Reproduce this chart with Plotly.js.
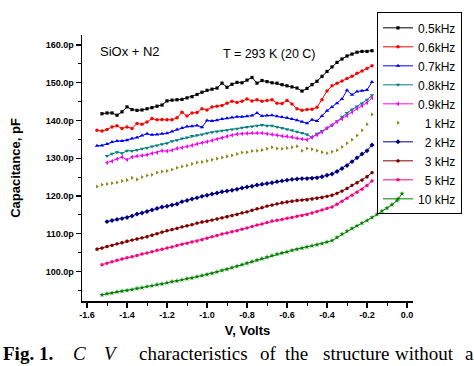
<!DOCTYPE html>
<html>
<head>
<meta charset="utf-8">
<script src="https://cdn.plot.ly/plotly-3.0.1.min.js"></script>
<style>html,body{margin:0;padding:0;background:#fff;}#chart{width:474px;height:366px;}</style>
</head>
<body>
<div id="chart"></div>
<script>
// Bias voltage grid (V)
const volts = [-1.55,-1.525,-1.5,-1.475,-1.45,-1.425,-1.4,-1.375,-1.35,-1.325,
  -1.3,-1.275,-1.25,-1.225,-1.2,-1.175,-1.15,-1.125,-1.1,-1.075,
  -1.05,-1.025,-1.0,-0.975,-0.95,-0.925,-0.9,-0.875,-0.85,-0.825,
  -0.8,-0.775,-0.75,-0.725,-0.7,-0.675,-0.65,-0.625,-0.6,-0.575,
  -0.55,-0.525,-0.5,-0.475,-0.45,-0.425,-0.4,-0.375,-0.35,-0.325,
  -0.3,-0.275,-0.25,-0.225,-0.2,-0.175,-0.15,-0.125,-0.1,-0.075,
  -0.05,-0.025];

// Capacitance (pF) per frequency
const c05k = [null,141.8,142.0,142.0,141.4,142.3,143.6,142.9,142.7,142.8,
  143.1,143.4,143.8,144.1,145.2,145.4,145.5,145.6,146.0,146.3,
  146.9,147.5,148.0,148.3,148.6,149.9,148.8,149.6,150.1,150.0,
  150.7,151.4,149.9,150.6,150.3,150.0,149.9,149.5,149.2,148.9,
  148.6,147.8,148.5,149.5,150.4,151.7,153.0,154.2,155.4,156.3,
  157.1,157.6,158.1,158.3,158.3,158.5];
const c06k = [137.4,137.2,137.6,138.3,138.6,137.9,138.3,137.9,139.2,139.0,
  139.6,140.5,140.2,140.3,140.2,140.2,140.7,142.2,141.2,142.0,
  142.1,143.1,142.8,143.6,143.8,144.0,144.6,145.1,144.8,145.1,
  145.7,145.2,145.5,145.1,145.3,145.5,144.6,144.5,145.3,144.4,
  143.1,142.7,142.9,143.0,143.5,145.5,147.8,149.2,149.9,150.5,
  151.1,151.7,152.5,153.1,153.8,154.5];
const c07k = [133.3,133.4,133.8,134.3,134.6,134.6,134.8,135.2,135.5,136.0,
  136.5,136.2,136.3,136.5,136.6,137.1,137.6,138.0,138.4,138.5,
  138.7,138.2,140.0,139.9,140.1,140.4,140.6,140.8,141.0,141.0,
  141.1,141.3,142.0,141.2,141.3,141.4,141.1,140.9,140.7,140.4,
  140.1,139.7,139.3,140.2,139.9,141.2,142.6,143.6,144.6,145.7,
  148.0,146.8,147.7,147.9,148.1,150.2];
const c08k = [null,null,130.6,131.2,131.6,131.3,132.0,131.9,132.2,132.5,
  132.7,133.1,133.4,133.7,134.0,134.5,134.8,135.2,135.5,135.9,
  136.1,136.3,136.6,136.9,137.1,137.3,137.4,137.6,137.8,138.1,
  138.3,138.4,138.6,138.8,138.6,138.6,138.3,138.0,137.7,137.4,
  137.0,136.7,136.3,135.5,136.5,137.2,137.9,138.7,139.8,141.0,
  142.0,142.9,143.7,144.5,145.5,146.7];
const c09k = [null,null,128.8,129.2,129.8,130.3,129.6,130.3,130.6,130.7,
  130.9,131.3,131.5,132.0,131.9,132.1,132.6,132.8,133.1,133.4,
  133.8,134.1,134.4,134.7,135.1,135.4,135.8,136.1,136.4,136.5,
  136.6,136.7,136.7,136.7,136.5,136.3,136.1,135.9,135.8,135.6,
  135.3,135.1,134.9,135.6,136.2,136.9,138.0,138.8,139.6,140.4,
  141.3,142.2,143.1,143.9,144.7,146.0];
const c1k = [122.5,123.0,123.2,123.4,123.6,124.0,124.2,124.8,124.4,125.0,
  125.4,125.6,126.2,126.5,126.6,127.0,127.5,127.8,128.1,128.5,
  128.9,129.0,129.3,129.6,129.9,130.2,130.5,130.7,131.1,131.5,
  131.6,131.9,132.0,132.2,132.5,132.9,132.6,132.5,132.7,132.9,
  133.2,132.0,132.6,132.4,132.0,131.6,131.3,131.7,132.1,133.0,
  134.0,134.9,136.0,137.4,139.0,141.6];
const c2k = [null,null,113.2,113.5,113.8,114.0,114.3,114.7,115.2,115.5,
  115.9,116.3,116.7,117.1,117.3,117.6,117.9,118.5,118.8,119.2,
  119.5,119.9,120.2,120.5,120.8,121.1,121.3,121.5,121.8,122.1,
  122.4,122.6,122.9,123.1,123.3,123.5,123.8,124.0,124.2,124.4,
  124.5,124.6,124.6,124.7,124.8,125.1,125.5,125.8,126.5,127.3,
  128.1,129.1,130.1,131.1,132.0,133.5];
const c3k = [105.9,106.2,106.6,106.9,107.3,107.6,108.0,108.3,108.6,108.9,
  109.2,109.6,110.0,110.4,110.8,111.1,111.4,111.8,112.1,112.4,
  112.8,113.1,113.3,113.6,113.9,114.2,114.5,114.8,115.1,115.5,
  115.8,116.2,116.6,116.9,117.3,117.6,117.9,118.2,118.4,118.6,
  118.8,118.9,119.0,119.2,119.4,119.6,119.9,120.2,120.7,121.3,
  122.0,122.8,123.5,124.2,125.1,126.2];
const c5k = [null,101.8,102.2,102.6,103.0,103.3,103.6,103.9,104.2,104.6,
  104.9,105.2,105.6,105.9,106.2,106.5,106.9,107.2,107.5,107.8,
  108.1,108.4,108.8,109.2,109.5,109.9,110.2,110.5,110.8,111.2,
  111.5,111.9,112.3,112.6,113.0,113.4,113.6,113.8,114.1,114.3,
  114.6,114.8,115.1,115.5,115.9,116.3,116.7,117.1,117.8,118.6,
  119.4,120.2,121.0,121.8,122.8,124.0];
const c10k = [null,93.8,94.1,94.3,94.6,94.8,95.0,95.2,95.5,95.7,
  96.0,96.2,96.5,96.7,97.0,97.3,97.5,97.8,98.1,98.3,
  98.6,98.9,99.2,99.5,99.9,100.3,100.6,101.0,101.4,101.8,
  102.2,102.6,103.0,103.4,103.8,104.2,104.6,104.9,105.2,105.6,
  105.9,106.2,106.5,106.8,107.1,107.4,107.8,108.2,109.0,109.9,
  110.7,111.4,112.1,112.8,113.5,114.3,115.1,116.0,116.8,117.7,
  118.8,120.6];

const seriesNames = ['0.5kHz','0.6kHz','0.7kHz','0.8kHz','0.9kHz',
  '\u00a0\u00a01 kHz','\u00a0\u00a02 kHz','\u00a0\u00a03 kHz','\u00a0\u00a05 kHz','10 kHz'];
const seriesData = [c05k,c06k,c07k,c08k,c09k,c1k,c2k,c3k,c5k,c10k];
const seriesColors = ['#000000','#ff0000','#0000ff','#008080','#ff00ff',
  '#808000','#000080','#800000','#ff0080','#008000'];
const seriesSymbols = ['square','circle','triangle-up','triangle-down','triangle-left',
  'triangle-right','diamond','hexagon','circle','star'];
const seriesSizes = [3.2,3.5,4,4,4,3.5,3.8,3.8,3.5,4];
const seriesModes = ['lines+markers','lines+markers','lines+markers','lines+markers','lines+markers',
  'markers','lines+markers','lines+markers','lines+markers','lines+markers'];

const xTickVals = [-1.6,-1.4,-1.2,-1.0,-0.8,-0.6,-0.4,-0.2,0.0];
const xTickText = ['-1.6','-1.4','-1.2','-1.0','-0.8','-0.6','-0.4','-0.2','0.0'];
const yTickVals = [100,110,120,130,140,150,160];
const yTickText = ['100.0p','110.0p','120.0p','130.0p','140.0p','150.0p','160.0p'];

const traces = seriesData.map((ys, i) => ({
  type: 'scatter',
  x: volts,
  y: ys,
  name: seriesNames[i],
  mode: seriesModes[i],
  connectgaps: false,
  line: {color: seriesColors[i], width: 1},
  marker: {color: seriesColors[i], symbol: seriesSymbols[i], size: seriesSizes[i],
    line: {width: 0}}
}));

const sans = 'Liberation Sans, Arial, sans-serif';
const serif = 'Liberation Serif, Times New Roman, serif';
const pxX = p => (p - 82) / 331;
const pxY = p => (301 - p) / 270;

const capWords = [
  {t: '<b>Fig. 1.</b>', x: 1},
  {t: '<i>C</i>', x: 71},
  {t: '<i>V</i>', x: 102},
  {t: 'characteristics', x: 137},
  {t: 'of', x: 258},
  {t: 'the', x: 283},
  {t: 'structure', x: 321},
  {t: 'without', x: 393},
  {t: 'a', x: 463}
];

const annotations = [
  {text: 'SiOx + N2', x: pxX(98), y: pxY(48), xref: 'paper', yref: 'paper',
   xanchor: 'left', yanchor: 'middle', showarrow: false,
   font: {family: sans, size: 13, color: '#000'}},
  {text: 'T = 293 K (20 C)', x: pxX(221), y: pxY(50), xref: 'paper', yref: 'paper',
   xanchor: 'left', yanchor: 'middle', showarrow: false,
   font: {family: sans, size: 12.5, color: '#000'}}
].concat(capWords.map(w => ({
  text: w.t, x: pxX(w.x), y: pxY(342), xref: 'paper', yref: 'paper',
  xanchor: 'left', yanchor: 'top', showarrow: false,
  font: {family: serif, size: 19, color: '#000'}
})));

const layout = {
  width: 474, height: 366,
  margin: {l: 82, r: 61, t: 31, b: 65},
  paper_bgcolor: '#fff', plot_bgcolor: '#fff',
  font: {family: sans, color: '#000'},
  showlegend: true,
  legend: {x: pxX(377), y: pxY(8), xanchor: 'left', yanchor: 'top',
    maxheight: 1, itemwidth: 30,
    bordercolor: '#000', borderwidth: 1, bgcolor: 'rgba(255,255,255,0)',
    font: {family: sans, size: 12, color: '#000'}, tracegroupgap: 0},
  xaxis: {
    range: [-1.625, 0.03], showgrid: false, zeroline: false,
    showline: true, linecolor: '#000', linewidth: 1.5, mirror: false,
    ticks: 'outside', ticklen: 5, tickwidth: 1.2, tickcolor: '#000',
    tickmode: 'array', tickvals: xTickVals, ticktext: xTickText,
    tickfont: {family: sans, size: 9, weight: 700, color: '#000'},
    minor: {dtick: 0.1, tick0: 0, ticks: 'outside', ticklen: 3, tickwidth: 1, tickcolor: '#000', showgrid: false},
    title: {text: 'V, Volts', standoff: 6, font: {family: sans, size: 13, weight: 700, color: '#000'}}
  },
  yaxis: {
    range: [92.17, 162.66], showgrid: false, zeroline: false,
    showline: true, linecolor: '#000', linewidth: 1.5, mirror: false,
    ticks: 'outside', ticklen: 5, tickwidth: 1.2, tickcolor: '#000',
    tickmode: 'array', tickvals: yTickVals, ticktext: yTickText,
    tickfont: {family: sans, size: 9, weight: 700, color: '#000'},
    minor: {dtick: 5, tick0: 0, ticks: 'outside', ticklen: 3, tickwidth: 1, tickcolor: '#000', showgrid: false},
    title: {text: 'Capacitance, pF', standoff: 22, font: {family: sans, size: 13, weight: 700, color: '#000'}}
  },
  annotations: annotations
};

Plotly.newPlot('chart', traces, layout, {displayModeBar: false, staticPlot: true});
</script>
</body>
</html>
